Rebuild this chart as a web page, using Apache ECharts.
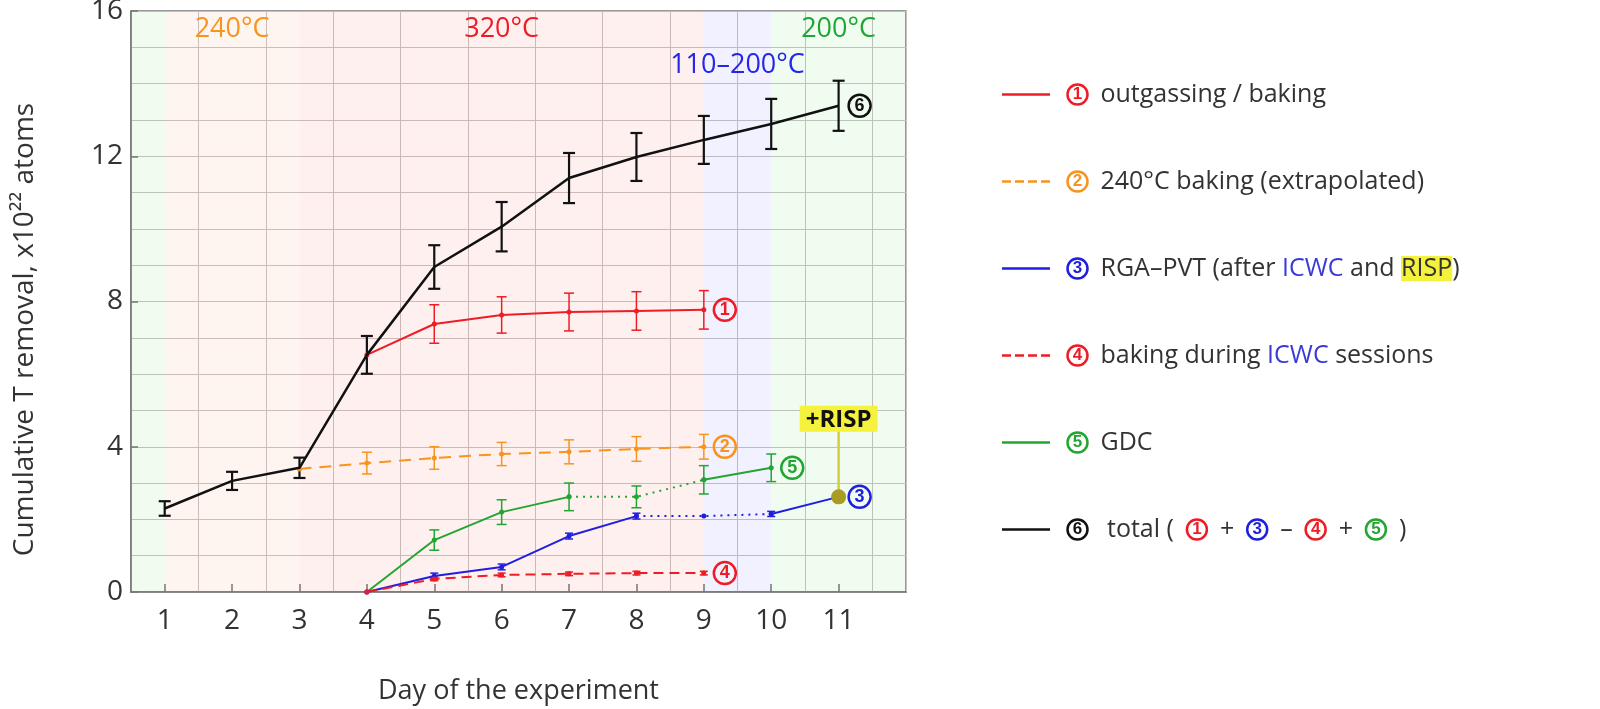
<!DOCTYPE html>
<html>
<head>
<meta charset="utf-8">
<script src="https://cdn.jsdelivr.net/npm/echarts@6/dist/echarts.min.js"></script>
<style>
html, body { margin: 0; background: #fff; }
#chart { width: 1600px; height: 709px; }
</style>
</head>
<body>
<div id="chart"></div>
<script>
// data (units of 1e22 atoms)
var days = [1, 2, 3, 4, 5, 6, 7, 8, 9, 10, 11];

var total      = [2.30, 3.06, 3.42, 6.53, 8.95, 10.06, 11.40, 11.98, 12.45, 12.89, 13.39];
var totalErr   = [0.20, 0.25, 0.28, 0.52, 0.60, 0.68, 0.69, 0.66, 0.66, 0.69, 0.69];

var outgas     = [null, null, null, 6.53, 7.38, 7.63, 7.71, 7.74, 7.77, null, null];
var outgasErr  = [null, null, null, null, 0.53, 0.50, 0.52, 0.53, 0.53, null, null];

var bake240    = [null, null, 3.39, 3.55, 3.69, 3.80, 3.86, 3.94, 4.00, null, null];
var bake240Err = [null, null, null, 0.30, 0.31, 0.32, 0.33, 0.34, 0.34, null, null];

var rga        = [null, null, null, 0, 0.44, 0.69, 1.54, 2.09, 2.09, 2.15, 2.62];
var rgaErr     = [null, null, null, null, 0.08, 0.08, 0.08, 0.08, null, 0.07, null];
var rgaDotted  = [8, 9, 10];

var icwc       = [null, null, null, 0, 0.36, 0.47, 0.50, 0.52, 0.52, null, null];
var icwcErr    = [null, null, null, null, 0.05, 0.05, 0.05, 0.05, 0.05, null, null];

var gdc        = [null, null, null, 0, 1.43, 2.20, 2.62, 2.62, 3.09, 3.42, null];
var gdcErr     = [null, null, null, null, 0.28, 0.34, 0.38, 0.30, 0.39, 0.38, null];
var gdcDotted  = [7, 8, 9];

var xTicks = [1, 2, 3, 4, 5, 6, 7, 8, 9, 10, 11];

var bands = [
    { from: 0.5, to: 1,  name: '',          color: 'rgba(0,200,0,0.06)',    text: '#1fa637', dist: 5 },
    { from: 1,   to: 3,  name: '240°C',     color: 'rgba(255,120,40,0.07)', text: '#f7941d', dist: 5 },
    { from: 3,   to: 9,  name: '320°C',     color: 'rgba(255,60,60,0.075)', text: '#ee1c25', dist: 5 },
    { from: 9,   to: 10, name: '110–200°C', color: 'rgba(60,60,255,0.07)',  text: '#2626e6', dist: 41 },
    { from: 10,  to: 12, name: '200°C',     color: 'rgba(0,200,0,0.06)',    text: '#1fa637', dist: 5 }
];

var RED = '#ee1c25', ORANGE = '#f7941d', BLUE = '#1f1fe0', GREEN = '#22a531', BLACK = '#111';
var FONT = '"Open Sans", "Noto Sans", sans-serif';
var GRIDC = '#c9c3c3';

function line(vals, gap) {
    var out = [];
    days.forEach(function (d, i) {
        if (vals[i] == null) return;
        out.push([d, gap && gap.indexOf(d) > 0 && gap.indexOf(d) < gap.length - 1 ? '-' : vals[i]]);
    });
    return out;
}
function subset(vals, keep) {
    var out = [];
    days.forEach(function (d, i) {
        if (vals[i] != null && keep.indexOf(d) >= 0) out.push([d, vals[i]]);
    });
    return out;
}
function bars(vals, errs) {
    var out = [];
    days.forEach(function (d, i) {
        if (vals[i] != null && errs[i] != null) out.push([d, vals[i] - errs[i], vals[i] + errs[i]]);
    });
    return out;
}

function errSeries(data, color, cap, width) {
    return {
        type: 'custom',
        data: data,
        encode: { x: 0, y: [1, 2] },
        z: 3,
        renderItem: function (params, api) {
            var x = api.value(0);
            var p1 = api.coord([x, api.value(1)]);
            var p2 = api.coord([x, api.value(2)]);
            var st = { stroke: color, lineWidth: width };
            return {
                type: 'group',
                children: [
                    { type: 'line', shape: { x1: p1[0], y1: p1[1], x2: p2[0], y2: p2[1] }, style: st },
                    { type: 'line', shape: { x1: p1[0] - cap, y1: p1[1], x2: p1[0] + cap, y2: p1[1] }, style: st },
                    { type: 'line', shape: { x1: p2[0] - cap, y1: p2[1], x2: p2[0] + cap, y2: p2[1] }, style: st }
                ]
            };
        }
    };
}

function circ(color, size, fs) {
    size = size || 22;
    return {
        color: color, borderColor: color, borderWidth: 2.5, borderRadius: 16,
        width: size, height: size, lineHeight: size, align: 'center',
        fontSize: fs || 18, fontWeight: 'bold', fontFamily: '"Liberation Sans", Arial, sans-serif'
    };
}
var circRich = { c1: circ(RED), c2: circ(ORANGE), c3: circ(BLUE), c4: circ(RED), c5: circ(GREEN), c6: circ(BLACK) };
var legRich = { c1: circ(RED, 20, 17), c2: circ(ORANGE, 20, 17), c3: circ(BLUE, 20, 17),
                c4: circ(RED, 20, 17), c5: circ(GREEN, 20, 17), c6: circ(BLACK, 20, 17) };

function endLabel(tag) {
    return { show: true, formatter: '{' + tag + '|' + tag.slice(1) + '}', distance: 10, rich: circRich };
}

var legendText = {
    'outgassing / baking': '{sp|}{c1|1}  outgassing / baking',
    '240°C baking (extrapolated)': '{sp|}{c2|2}  240°C baking (extrapolated)',
    'RGA–PVT': '{sp|}{c3|3}  RGA–PVT (after {b|ICWC} and {y|RISP})',
    'baking during ICWC sessions': '{sp|}{c4|4}  baking during {b|ICWC} sessions',
    'GDC': '{sp|}{c5|5}  GDC',
    'total': '{sp|}{c6|6}   total (  {c1|1}  +  {c3|3}  –  {c4|4}  +  {c5|5}  )'
};
var solidIcon = 'path://M0,0h48v2.5h-48z';
var dashIcon = 'path://M0,0h9v2.5h-9z M13,0h9v2.5h-9z M26,0h9v2.5h-9z M39,0h9v2.5h-9z';

var chart = echarts.init(document.getElementById('chart'));

var option = {
    animation: false,
    backgroundColor: '#fff',
    textStyle: { fontFamily: FONT },
    grid: {
        left: 131, right: 694, top: 11, bottom: 117,
        outerBoundsMode: 'none',
        show: true, borderColor: '#777', borderWidth: 1.5
    },
    legend: {
        orient: 'vertical',
        left: 997,
        top: 77,
        itemGap: 62,
        itemWidth: 49,
        itemHeight: 2.5,
        selectedMode: false,
        data: [
            { name: 'outgassing / baking', icon: solidIcon },
            { name: '240°C baking (extrapolated)', icon: dashIcon },
            { name: 'RGA–PVT', icon: solidIcon },
            { name: 'baking during ICWC sessions', icon: dashIcon },
            { name: 'GDC', icon: solidIcon },
            { name: 'total', icon: solidIcon }
        ],
        formatter: function (name) { return legendText[name]; },
        textStyle: {
            fontSize: 25, color: '#333', fontFamily: FONT,
            rich: Object.assign({
                sp: { width: 12 },
                b: { color: '#3a3ad6', fontSize: 25, fontFamily: FONT },
                y: { color: '#333', backgroundColor: '#f4f23c', fontSize: 25, fontFamily: FONT }
            }, legRich)
        }
    },
    xAxis: [
        {
            // grid lines on the half days
            type: 'value',
            min: 0.5,
            max: 12,
            interval: 1,
            axisLine: { show: true, onZero: false, lineStyle: { color: '#777', width: 1.5 } },
            axisTick: { show: false },
            axisLabel: { show: false },
            splitLine: { show: true, lineStyle: { color: GRIDC, width: 1 } }
        },
        {
            // ticks and labels on the days
            type: 'value',
            position: 'bottom',
            min: 0.5,
            max: 12,
            name: 'Day of the experiment',
            nameLocation: 'middle',
            nameGap: 86,
            nameTextStyle: { fontSize: 27, color: '#333' },
            axisLine: { show: false, onZero: false },
            axisTick: { show: true, inside: true, length: 8, customValues: xTicks, lineStyle: { color: '#777', width: 1.5 } },
            axisLabel: { customValues: xTicks, fontSize: 28, color: '#333', margin: 15 },
            splitLine: { show: false }
        }
    ],
    yAxis: {
        type: 'value',
        min: 0,
        max: 16,
        interval: 4,
        name: 'Cumulative T removal, x10²² atoms',
        nameLocation: 'middle',
        nameGap: 92,
        nameTextStyle: { fontSize: 28, color: '#333', padding: [0, 56, 0, 0] },
        axisLine: { show: true, lineStyle: { color: '#777', width: 1.5 } },
        axisTick: { show: true, inside: true, length: 7, lineStyle: { color: '#777', width: 1.5 } },
        axisLabel: { fontSize: 28, color: '#333', margin: 8 },
        minorTick: { show: false, splitNumber: 4 },
        splitLine: { show: true, lineStyle: { color: GRIDC, width: 1 } },
        minorSplitLine: { show: true, lineStyle: { color: GRIDC, width: 1 } }
    },
    series: [
        {
            name: 'total',
            type: 'line',
            data: line(total),
            color: BLACK,
            symbol: 'none',
            lineStyle: { color: BLACK, width: 2.5 },
            z: 6,
            endLabel: endLabel('c6'),
            markArea: {
                silent: true,
                label: { show: true, position: 'insideTop', fontSize: 27, fontFamily: FONT },
                data: bands.map(function (b) {
                    return [
                        { xAxis: b.from, name: b.name, itemStyle: { color: b.color },
                          label: { color: b.text, distance: b.dist } },
                        { xAxis: b.to }
                    ];
                })
            }
        },
        errSeries(bars(total, totalErr), BLACK, 6, 2.2),
        {
            name: 'outgassing / baking',
            type: 'line',
            data: line(outgas),
            color: RED,
            symbol: 'circle', symbolSize: 5,
            lineStyle: { color: RED, width: 2 },
            z: 5,
            endLabel: endLabel('c1')
        },
        errSeries(bars(outgas, outgasErr), RED, 5, 1.5),
        {
            name: '240°C baking (extrapolated)',
            type: 'line',
            data: line(bake240),
            color: ORANGE,
            symbol: 'circle', symbolSize: 5,
            lineStyle: { color: ORANGE, width: 2, type: [12, 8] },
            z: 5,
            endLabel: endLabel('c2')
        },
        errSeries(bars(bake240, bake240Err), ORANGE, 5, 1.5),
        {
            name: 'GDC',
            type: 'line',
            data: line(gdc, gdcDotted),
            color: GREEN,
            symbol: 'circle', symbolSize: 5,
            lineStyle: { color: GREEN, width: 2 },
            z: 5,
            endLabel: endLabel('c5')
        },
        {
            type: 'line',
            data: subset(gdc, gdcDotted),
            color: GREEN,
            symbol: 'circle', symbolSize: 5,
            lineStyle: { color: GREEN, width: 2, type: [2, 5] },
            z: 5
        },
        errSeries(bars(gdc, gdcErr), GREEN, 5, 1.5),
        {
            name: 'RGA–PVT',
            type: 'line',
            data: line(rga, rgaDotted),
            color: BLUE,
            symbol: 'circle', symbolSize: 5,
            lineStyle: { color: BLUE, width: 2 },
            z: 5,
            endLabel: endLabel('c3')
        },
        {
            type: 'line',
            data: subset(rga, rgaDotted),
            color: BLUE,
            symbol: 'circle', symbolSize: 5,
            lineStyle: { color: BLUE, width: 2, type: [2, 5] },
            z: 5
        },
        errSeries(bars(rga, rgaErr), BLUE, 4, 1.5),
        {
            name: 'baking during ICWC sessions',
            type: 'line',
            data: line(icwc),
            color: RED,
            symbol: 'circle', symbolSize: 5,
            lineStyle: { color: RED, width: 2, type: [10, 6] },
            z: 5,
            endLabel: endLabel('c4')
        },
        errSeries(bars(icwc, icwcErr), RED, 4, 1.5),
        {
            // +RISP annotation on the last RGA-PVT point
            type: 'custom',
            data: [[days[10], rga[10]]],
            encode: { x: 0, y: 1 },
            z: 8,
            renderItem: function (params, api) {
                var p = api.coord([api.value(0), api.value(1)]);
                return {
                    type: 'group',
                    children: [
                        { type: 'line', shape: { x1: p[0], y1: p[1], x2: p[0], y2: p[1] - 66 },
                          style: { stroke: '#d2cf3a', lineWidth: 2.5 } },
                        { type: 'circle', shape: { cx: p[0], cy: p[1], r: 7.5 },
                          style: { fill: '#a89c22' } },
                        { type: 'text',
                          style: {
                              text: '+RISP', x: p[0], y: p[1] - 65,
                              align: 'center', verticalAlign: 'bottom',
                              fill: '#111', font: 'bold 24px "Open Sans", sans-serif',
                              backgroundColor: '#f4f23c', padding: [2, 6, 0, 6]
                          } }
                    ]
                };
            }
        }
    ]
};

chart.setOption(option);
</script>
</body>
</html>
